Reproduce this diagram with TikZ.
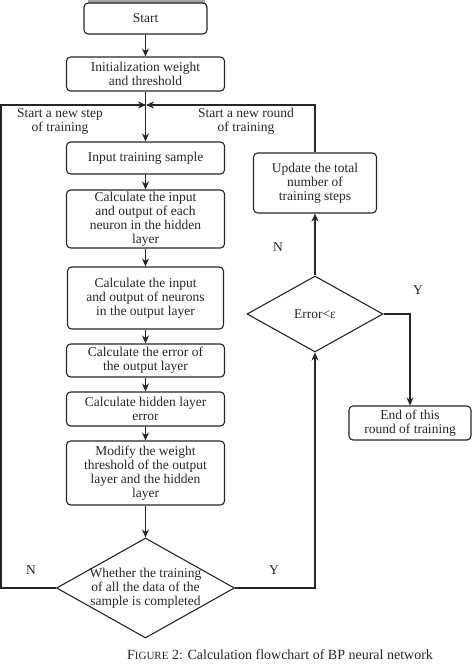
\documentclass[tikz,border=0pt]{standalone}
\usepackage{fontspec}
\setmainfont{Liberation Serif}
\usepackage{tikz}
\usetikzlibrary{positioning,shapes.geometric,arrows.meta}

\tikzset{
  box/.style={draw,rounded corners=4pt,align=center,minimum width=158pt,inner sep=1pt},
  test/.style={draw,diamond,inner sep=0pt},
  note/.style={align=center,inner sep=0pt}
}

\begin{document}
\begin{tikzpicture}[->,x=1pt,y=-1pt,node distance=50pt,on grid,
      line width=1.1pt,black!85,>={Stealth[length=8pt,width=7pt]},
      font=\fontsize{13.5}{14}\selectfont]
      \useasboundingbox (0,0) rectangle (474,664);
      \fill[gray!70,draw=none] (88,0) rectangle (205,3);
      % main column
      \node[box,minimum width=123pt,minimum height=31pt] (start) at (145.5,18.5) {Start};
      \node[box,minimum height=34pt] (init) [below=55.5pt of start] {Initialization weight\\and threshold};
      \node[box,minimum height=32pt] (input) [below=84pt of init] {Input training sample};
      \node[box,minimum height=58pt] (hid) [below=61pt of input] {Calculate the input\\and output of each\\neuron in the hidden\\layer};
      \node[box,minimum width=156pt,minimum height=62pt] (outl) [below=79pt of hid] {Calculate the input\\and output of neurons\\in the output layer};
      \node[box,minimum height=33pt] (err) [below=62.5pt of outl] {Calculate the error of\\the output layer};
      \node[box,minimum height=34pt] (hide) [below=48.5pt of err] {Calculate hidden layer\\error};
      \node[box,minimum height=64pt] (modify) [below=64pt of hide] {Modify the weight\\threshold of the output\\layer and the hidden\\layer};
      \node[test,minimum width=178pt,minimum height=100pt,
        label={[note]center:Whether the training\\of all the data of the\\sample is completed}] (check) [below=115pt of modify] {};
      % right column
      \node[test,minimum width=136pt,minimum height=76pt] (errc) at (315,314) {Error<ε};
      \node[box,minimum width=123pt,minimum height=60pt] (update) [above=131pt of errc] {Update the total\\number of\\training steps};
      \node[box,minimum width=122pt,minimum height=34pt] (end) [below right=109pt and 95pt of errc] {End of this\\round of training};
      \coordinate (jn) at (146,105);
      % labels
      \node[note] (lstep) at (60,121) {Start a new step\\of training};
      \node[note] (lround) at (246,121) {Start a new round\\of training};
      \node[note] (n1) at (31,570) {N};
      \node[note] (y1) at (274,570) {Y};
      \node[note] (n2) at (278,247) {N};
      \node[note] (y2) at (418,290) {Y};
      \node[anchor=base,inner sep=0pt,font=\fontsize{14}{16}\selectfont] (cap) at (280,659)
        {F{\fontsize{11}{12}\selectfont IGURE} 2: Calculation flowchart of BP neural network};
      % connectors
      \path
        (start) edge (init)
        (init) edge (input)
        (input) edge (hid)
        (hid) edge (outl)
        (outl) edge (err)
        (err) edge (hide)
        (hide) edge (modify)
        (modify) edge (check)
        (errc) edge (update);
      \draw (check.west) -- ++(-55,0) |- (jn);
      \draw (check.east) -| (errc.south);
      \draw (update.north) |- (jn);
      \draw (errc.east) -| (end.north);
\end{tikzpicture}
\end{document}
